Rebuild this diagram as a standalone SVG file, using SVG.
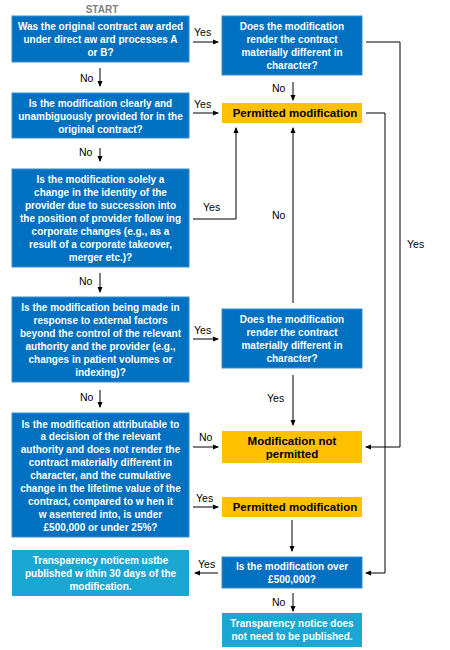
<svg xmlns="http://www.w3.org/2000/svg" width="450" height="650" viewBox="0 0 450 650">
<style>
.q{fill:#0070c0;stroke:#3d8bd0;stroke-width:1}
.y{fill:#ffc000}
.c{fill:#1ba7d2}
.t{font-family:"Liberation Sans",Arial,sans-serif;font-weight:bold;font-size:10px;fill:#fff;text-anchor:middle}
.b{font-family:"Liberation Sans",Arial,sans-serif;font-weight:bold;font-size:11.5px;fill:#000;text-anchor:middle}
.l{font-family:"Liberation Sans",Arial,sans-serif;font-size:10.5px;fill:#000}
.s{font-family:"Liberation Sans",Arial,sans-serif;font-weight:bold;font-size:10px;fill:#808080;text-anchor:middle}
.w{fill:none;stroke:#000;stroke-width:1}
</style>
<defs>
<marker id="a" markerWidth="6" markerHeight="6" refX="5" refY="3" orient="auto" markerUnits="userSpaceOnUse">
<path d="M0,0.5 L6,3 L0,5.5 Z" fill="#000"/>
</marker>
</defs>
<rect width="450" height="650" fill="#fff"/>
<text class="s" x="102" y="13">START</text>

<g id="n1"><rect class="q" x="12" y="16" width="177" height="46"/>
<text class="t" x="100.5" y="29.5">Was the original contract aw arded</text>
<text class="t" x="100.5" y="42.5">under direct aw ard processes A</text>
<text class="t" x="100.5" y="55.5">or B?</text></g>

<g id="n2"><rect class="q" x="222" y="16" width="140" height="59"/>
<text class="t" x="292" y="29.5">Does the modification</text>
<text class="t" x="292" y="42.5">render the contract</text>
<text class="t" x="292" y="55.5">materially different in</text>
<text class="t" x="292" y="68.5">character?</text></g>

<g id="n3"><rect class="q" x="12" y="93" width="177" height="45"/>
<text class="t" x="100.5" y="106.5">Is the modification clearly and</text>
<text class="t" x="100.5" y="119.5">unambiguously provided for in the</text>
<text class="t" x="100.5" y="132.5">original contract?</text></g>

<g id="p1"><rect class="y" x="222" y="103" width="140" height="20"/>
<text class="b" x="295" y="117">Permitted modification</text></g>

<g id="n4"><rect class="q" x="12" y="169" width="177" height="98"/>
<text class="t" x="100.5" y="182.5">Is the modification solely a</text>
<text class="t" x="100.5" y="195.5">change in the identity of the</text>
<text class="t" x="100.5" y="208.5">provider due to succession into</text>
<text class="t" x="100.5" y="221.5">the position of provider follow ing</text>
<text class="t" x="100.5" y="234.5">corporate changes (e.g., as a</text>
<text class="t" x="100.5" y="247.5">result of a corporate takeover,</text>
<text class="t" x="100.5" y="260.5">merger etc.)?</text></g>

<g id="n5"><rect class="q" x="12" y="297" width="177" height="85"/>
<text class="t" x="100.5" y="310.5">Is the modification being made in</text>
<text class="t" x="100.5" y="323.5">response to external factors</text>
<text class="t" x="100.5" y="336.5">beyond the control of the relevant</text>
<text class="t" x="100.5" y="349.5">authority and the provider (e.g.,</text>
<text class="t" x="100.5" y="362.5">changes in patient volumes or</text>
<text class="t" x="100.5" y="375.5">indexing)?</text></g>

<g id="n6"><rect class="q" x="222" y="309" width="140" height="59"/>
<text class="t" x="292" y="322.5">Does the modification</text>
<text class="t" x="292" y="335.5">render the contract</text>
<text class="t" x="292" y="348.5">materially different in</text>
<text class="t" x="292" y="361.5">character?</text></g>

<g id="n7"><rect class="q" x="12" y="413" width="177" height="124"/>
<text class="t" x="100.5" y="427.5">Is the modification attributable to</text>
<text class="t" x="100.5" y="440.4">a decision of the relevant</text>
<text class="t" x="100.5" y="453.3">authority and does not render the</text>
<text class="t" x="100.5" y="466.2">contract materially different in</text>
<text class="t" x="100.5" y="479.1">character, and the cumulative</text>
<text class="t" x="100.5" y="492">change in the lifetime value of the</text>
<text class="t" x="100.5" y="504.9">contract, compared to w hen it</text>
<text class="t" x="100.5" y="517.8">w asentered into, is under</text>
<text class="t" x="100.5" y="530.7">£500,000 or under 25%?</text></g>

<g id="np"><rect class="y" x="222" y="431" width="140" height="32"/>
<text class="b" x="292" y="445">Modification not</text>
<text class="b" x="292" y="458">permitted</text></g>

<g id="p2"><rect class="y" x="222" y="497" width="140" height="20"/>
<text class="b" x="295" y="511">Permitted modification</text></g>

<g id="n8"><rect class="q" x="222" y="557" width="140" height="31"/>
<text class="t" x="292" y="569.5">Is the modification over</text>
<text class="t" x="292" y="582.5">£500,000?</text></g>

<g id="t1"><rect class="c" x="12" y="550" width="177" height="46"/>
<text class="t" x="100.5" y="563.5">Transparency noticem ustbe</text>
<text class="t" x="100.5" y="576.5">published w ithin 30 days of the</text>
<text class="t" x="100.5" y="589.5">modification.</text></g>

<g id="t2"><rect class="c" x="222" y="613" width="140" height="34"/>
<text class="t" x="292" y="626.5">Transparency notice does</text>
<text class="t" x="292" y="639.5">not need to be published.</text></g>

<g id="connectors">
<path class="w" marker-end="url(#a)" d="M193,42 H218"/>
<path class="w" marker-end="url(#a)" d="M100,68 V86"/>
<path class="w" marker-end="url(#a)" d="M293,82 V100"/>
<path class="w" marker-end="url(#a)" d="M193,113 H218"/>
<path class="w" marker-end="url(#a)" d="M100,148 V161"/>
<path class="w" marker-end="url(#a)" d="M193,219 H236 V128"/>
<path class="w" marker-end="url(#a)" d="M293,303 V128"/>
<path class="w" marker-end="url(#a)" d="M366,42 H400 V447 H366"/>
<path class="w" marker-end="url(#a)" d="M366,113 H385 V573 H366"/>
<path class="w" marker-end="url(#a)" d="M100,273 V292"/>
<path class="w" marker-end="url(#a)" d="M193,339 H218"/>
<path class="w" marker-end="url(#a)" d="M100,390 V407"/>
<path class="w" marker-end="url(#a)" d="M293,375 V425"/>
<path class="w" marker-end="url(#a)" d="M193,447 H218"/>
<path class="w" marker-end="url(#a)" d="M193,507 H218"/>
<path class="w" marker-end="url(#a)" d="M292,520 V551"/>
<path class="w" marker-end="url(#a)" d="M218,573 H195"/>
<path class="w" marker-end="url(#a)" d="M293,593 V611"/>
<text class="l" x="194" y="36">Yes</text>
<text class="l" x="80" y="82">No</text>
<text class="l" x="272" y="92">No</text>
<text class="l" x="194" y="108">Yes</text>
<text class="l" x="79" y="156">No</text>
<text class="l" x="203" y="211">Yes</text>
<text class="l" x="272" y="219">No</text>
<text class="l" x="407" y="248">Yes</text>
<text class="l" x="79" y="285">No</text>
<text class="l" x="194" y="334">Yes</text>
<text class="l" x="80" y="401">No</text>
<text class="l" x="267" y="402">Yes</text>
<text class="l" x="199" y="441">No</text>
<text class="l" x="196" y="502">Yes</text>
<text class="l" x="198" y="568">Yes</text>
<text class="l" x="272" y="606">No</text>
</g>
</svg>
